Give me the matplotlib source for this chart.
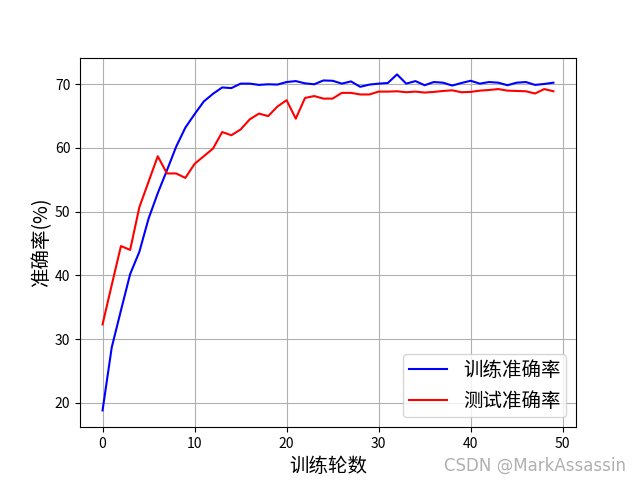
import matplotlib
matplotlib.use("Agg")
import matplotlib.pyplot as plt

plt.rcParams['font.family'] = ['Noto Sans CJK SC', 'DejaVu Sans']
plt.rcParams['axes.unicode_minus'] = False

epochs = list(range(50))
train_acc = [18.8, 28.7, 34.5, 40.2, 43.7, 48.9, 52.9, 56.5, 60.2, 63.2,
             65.3, 67.3, 68.5, 69.5, 69.4, 70.1, 70.1, 69.9, 70.0, 69.95,
             70.35, 70.5, 70.15, 70.0, 70.6, 70.55, 70.1, 70.45, 69.6, 69.95,
             70.1, 70.2, 71.55, 70.1, 70.5, 69.85, 70.35, 70.25, 69.8, 70.2,
             70.55, 70.1, 70.35, 70.25, 69.85, 70.25, 70.35, 69.9, 70.05, 70.25]
test_acc = [32.3, 38.5, 44.6, 44.0, 50.7, 54.7, 58.7, 56.0, 56.0, 55.3,
            57.5, 58.7, 59.9, 62.5, 62.0, 62.9, 64.5, 65.4, 65.0, 66.5,
            67.5, 64.6, 67.85, 68.15, 67.75, 67.75, 68.65, 68.65, 68.4, 68.4,
            68.85, 68.85, 68.9, 68.75, 68.85, 68.7, 68.8, 68.95, 69.05, 68.75,
            68.8, 69.0, 69.1, 69.25, 69.0, 68.95, 68.9, 68.55, 69.25, 68.9]

fig, ax = plt.subplots(figsize=(6.4, 4.8), dpi=100)
ax.plot(epochs, train_acc, color='blue', label='训练准确率')
ax.plot(epochs, test_acc, color='red', label='测试准确率')
ax.set_xlabel('训练轮数', fontsize=14)
ax.set_ylabel('准确率(%)', fontsize=14, labelpad=2)
ax.grid(True)
ax.legend(loc='lower right', fontsize=14, borderpad=0.3)
fig.text(0.978, 0.03, 'CSDN @MarkAssassin', ha='right', va='center',
         color='#b0b0b0', fontsize=12, family=['DejaVu Sans'])
fig.savefig('out.png', dpi=100)
